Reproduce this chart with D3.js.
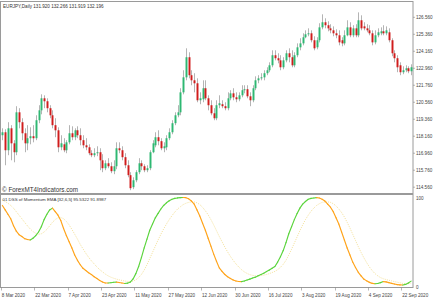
<html>
<head>
	<title>EURJPY Daily DSS of Momentum</title>
	<style>
		body { margin: 0; background: #fff; }
		text { font-family: "Liberation Sans", Arial, sans-serif; }
	</style>
</head>
<body>
	<script src="https://cdnjs.cloudflare.com/ajax/libs/d3/7.8.5/d3.min.js"></script>
	<script type="text/javascript">
		// candles, EURJPY D1
		var open = [118.23,118.44,117.17,118.72,117.66,117.03,119.85,119.15,118.37,117.66,
			118.02,118.16,118.02,119.29,119.99,120.84,120.63,120.14,119.64,118.94,
			118.58,117.38,117.59,117.17,117.73,118.37,118.09,118.58,118.23,117.88,
			117.52,117.38,116.96,116.82,116.96,117.03,116.46,115.90,116.25,116.04,
			115.69,116.04,117.31,117.17,116.68,116.11,115.41,114.56,115.05,115.62,
			116.25,116.04,115.76,115.90,117.03,117.52,118.09,117.81,117.31,117.38,
			118.02,118.44,119.08,119.64,119.85,121.26,122.32,123.74,122.47,122.11,
			121.90,120.70,120.77,121.55,120.84,120.35,119.78,119.43,120.35,120.42,
			120.28,120.14,120.84,121.19,120.91,120.77,121.05,121.41,121.48,120.98,
			120.70,121.55,122.11,122.25,122.32,122.61,122.82,123.17,123.88,123.67,
			123.52,123.03,123.52,124.02,123.74,123.17,123.88,124.44,124.72,125.15,
			125.36,125.43,124.94,124.44,124.94,125.85,126.21,126.00,125.78,125.64,
			125.43,125.29,124.94,124.72,125.29,125.85,125.29,125.78,125.29,126.35,
			125.92,125.78,125.64,125.43,124.79,125.29,125.43,125.57,125.43,125.50,
			124.94,124.02,123.67,123.17,122.68,122.82,122.96,122.75];
		var close = [118.44,117.17,118.72,117.66,117.03,119.85,119.15,118.37,117.66,118.02,
			118.16,118.02,119.29,119.99,120.84,120.63,120.14,119.64,118.94,118.58,
			117.38,117.66,117.17,117.73,118.37,118.09,118.58,118.23,117.88,117.52,
			117.38,116.96,116.82,116.96,117.03,116.46,115.90,116.25,116.04,115.69,
			116.04,117.31,117.17,116.68,116.11,115.41,114.49,115.05,115.62,116.25,
			116.04,115.76,115.90,117.03,117.66,118.09,117.81,117.31,117.45,118.02,
			118.44,119.08,119.64,119.85,121.26,122.32,123.74,122.47,122.11,121.90,
			120.70,120.84,121.55,120.84,120.35,119.78,119.43,120.35,120.49,120.28,
			120.14,120.84,121.19,120.91,120.77,121.05,121.41,121.48,120.98,120.70,
			121.55,122.11,122.25,122.32,122.61,122.82,123.17,123.88,123.67,123.52,
			123.03,123.52,124.02,123.74,123.17,123.88,124.44,124.72,125.15,125.36,
			125.43,124.94,124.37,124.94,125.85,126.21,126.00,125.78,125.64,125.43,
			125.29,124.79,124.72,125.29,125.85,125.29,125.78,125.29,126.35,125.78,
			125.78,125.64,125.43,124.79,125.29,125.50,125.57,125.43,125.64,124.94,
			124.02,123.67,123.03,122.68,122.82,122.96,122.75,123.03];
		var high = [118.72,118.65,119.15,118.94,117.88,120.28,120.14,119.43,118.72,118.94,
			118.79,118.94,119.64,120.35,121.12,121.05,120.84,120.35,119.99,119.43,
			118.79,118.23,118.02,117.88,118.94,118.86,118.72,118.86,118.72,118.23,
			118.02,117.59,117.17,117.31,117.45,117.31,116.89,116.46,116.61,116.32,
			116.46,117.73,117.73,117.45,116.96,116.46,115.62,115.26,115.76,116.61,
			116.46,116.18,116.11,117.17,117.88,118.44,118.58,118.02,117.73,118.23,
			118.72,119.29,119.85,120.35,121.55,122.82,124.37,124.09,122.82,122.61,
			122.25,121.26,122.11,122.11,121.05,120.70,120.14,120.70,121.05,120.70,
			120.56,121.26,121.41,121.55,121.26,121.26,121.76,121.76,121.76,121.26,
			121.76,122.39,122.47,122.61,122.82,123.03,123.38,124.23,124.23,124.02,
			123.88,123.74,124.23,124.37,124.23,124.09,124.72,125.08,125.43,125.64,
			125.78,125.64,125.22,125.15,126.14,126.77,126.49,126.28,126.07,125.92,
			125.71,125.64,125.15,125.64,126.35,126.21,126.00,126.07,126.91,126.70,
			126.21,126.07,126.00,125.64,125.64,125.78,125.85,126.00,125.92,125.78,
			125.08,124.23,123.88,123.38,123.10,123.17,123.10,123.24];
		var low = [117.88,116.11,116.82,116.46,116.32,116.82,118.72,117.88,117.03,117.17,
			117.59,117.73,117.88,119.08,119.71,120.14,119.85,119.43,118.72,118.09,
			117.03,117.17,117.03,116.96,117.59,117.88,117.88,118.02,117.52,117.31,
			117.17,116.82,116.68,116.68,116.75,115.76,115.62,115.76,115.90,115.55,
			115.48,115.83,116.96,116.46,115.90,115.26,114.35,114.42,114.91,115.48,
			115.76,115.62,115.62,115.76,116.96,117.38,117.52,117.17,117.03,117.17,
			117.88,118.30,118.94,119.50,119.64,121.12,122.11,122.25,121.76,121.26,
			120.56,120.42,120.56,120.70,119.99,119.64,119.29,119.29,120.14,120.14,
			119.99,119.99,120.70,120.70,120.56,120.63,120.91,121.19,120.84,120.28,
			120.56,121.41,121.90,122.11,122.11,122.47,122.68,123.03,123.52,123.31,
			122.82,122.89,123.38,123.38,123.03,123.03,123.74,124.23,124.58,125.08,
			125.22,124.79,124.23,124.30,124.79,125.71,125.78,125.57,125.43,125.22,
			125.08,124.58,124.51,124.58,125.22,125.15,125.15,125.15,125.15,125.64,
			125.64,125.50,125.29,124.58,124.65,125.15,125.29,125.29,125.29,124.79,
			123.81,123.38,122.68,122.47,122.54,122.68,122.61,122.47];

		// DSS of Momentum EMA(32,6,5): main and signal
		var dssMain = [91,86,81,76,68,62,58,56,53.5,52.5,
			52,54,57,61,67,75,81,86,88,84,
			80,74,65,57,50,43,35,29,24,20,
			17.5,15,13,10.5,8.5,6.2,4.5,3.4,3.4,3.7,
			4.2,4.4,3.9,3.4,2.8,3.2,4.5,8,14,22,
			32,43,53,63,70,77,82,87,91,94,
			96.3,98,99,99.5,99.8,100,99.8,98.5,96,92.5,
			86,79,71,63,54,45,36,28,20.5,16.5,
			13,10.5,8.5,6.7,5.6,5.1,5.0,5.6,6.7,7.8,
			9,10,11.5,13,14.4,16.3,18,20,22,27,
			33,40,49,59,67,75,82,88,92.5,95.5,
			98,99,99.4,99.9,99.4,98,96,92.5,89,84,
			77,70,61,52,43,35,27,21,15.5,11.5,
			7.8,5.8,4.1,3,2.5,2.8,3.8,5,4.6,3.8,
			3,2.2,1.5,1.2,1.1,1.8,3.5,5.5];
		var dssSignal = [97,95.5,93.5,91,88,84,80,76,72,68,
			64.5,61.5,59.5,58.5,59,61,64,68,72,75,
			77,77.5,76,73,69,64,58.5,53,47,42,
			37,32.5,28.5,25,21.5,18.5,16,13.5,11.5,10,
			8.8,7.8,7,6.3,5.6,5.2,5,5.5,7,9.5,
			13,18,24,31,38,45,52,58.5,64.5,70,
			75,79.5,83.5,87,89.5,92,93.5,94.5,95,95,
			94,92,89,85,80.5,75,69,62.5,56,50,
			44,38.5,33.5,29,25,21.5,18.5,16,14.2,12.8,
			12,11.6,11.5,11.8,12.3,13,14,15.2,16.5,18.5,
			21,24.5,29,35,41.5,48.5,55.5,62.5,69,75,
			80,84.5,88,91,93,94.5,95,95,94.5,93,
			90.5,87,83,78,72,65.5,58.5,51.5,44.5,38,
			32,26.5,21.5,17.5,14,11.5,9.5,8.2,7.3,6.5,
			5.8,5,4.3,3.6,3,2.6,2.6,3];

		var priceTicks = [126.560,125.360,124.160,122.960,121.760,120.560,119.360,118.160,116.960,115.760,114.560];
		var dssTicks = [100, 0];
		var dateLabels = ["8 Mar 2020","22 Mar 2020","7 Apr 2020","23 Apr 2020","11 May 2020","27 May 2020",
			"12 Jun 2020","30 Jun 2020","16 Jul 2020","3 Aug 2020","19 Aug 2020","4 Sep 2020","22 Sep 2020"];
		var dateLabelEvery = 12;

		var W = 436, H = 300;
		var plotRight = 412.5;
		var main = {top: 1.5, bottom: 193.5};
		var sub = {top: 194.5, bottom: 287.5};

		var svg = d3.select("body").append("svg")
			.attr("width", W)
			.attr("height", H);

		var idx = d3.range(close.length);
		var x = d3.scaleBand()
			.domain(idx)
			.range([1, plotRight]);
		var cx = function(i){ return x(i) + x.bandwidth()/2; };

		var y = d3.scaleLinear()
			.domain([114.56, 126.56])
			.range([187.2, 17.3]);
		var yd = d3.scaleLinear()
			.domain([0, 100])
			.range([286, 197.5]);

		// panel frames
		svg.append("rect")
			.attr("x", 0.5).attr("y", main.top)
			.attr("width", plotRight).attr("height", main.bottom - main.top)
			.style("fill", "none").style("stroke", "#9a9a9a").style("stroke-width", 1);
		svg.append("rect")
			.attr("x", 0.5).attr("y", sub.top)
			.attr("width", plotRight).attr("height", sub.bottom - sub.top)
			.style("fill", "none").style("stroke", "#9a9a9a").style("stroke-width", 1);

		// candles
		var candles = svg.append("g");
		var bw = Math.max(1.6, x.bandwidth()*0.7);
		candles.selectAll("line.wick")
			.data(idx)
			.enter().append("line")
			.attr("class", "wick")
			.attr("x1", function(i){ return Math.round(cx(i)) + 0.5; })
			.attr("x2", function(i){ return Math.round(cx(i)) + 0.5; })
			.attr("y1", function(i){ return y(high[i]); })
			.attr("y2", function(i){ return y(low[i]); })
			.style("stroke", "#b4b4b4")
			.style("stroke-width", 1);
		candles.selectAll("rect.body")
			.data(idx)
			.enter().append("rect")
			.attr("class", "body")
			.attr("x", function(i){ return Math.round(cx(i)) + 0.5 - bw/2; })
			.attr("width", bw)
			.attr("y", function(i){ return y(Math.max(open[i], close[i])); })
			.attr("height", function(i){ return Math.max(1, Math.abs(y(open[i]) - y(close[i]))); })
			.style("fill", function(i){ return close[i] >= open[i] ? "#2eb872" : "#d01c1c"; });

		// price axis
		var pa = svg.append("g");
		pa.selectAll("line")
			.data(priceTicks)
			.enter().append("line")
			.attr("x1", plotRight + 0.5).attr("x2", plotRight + 2.5)
			.attr("y1", function(d){ return y(d); }).attr("y2", function(d){ return y(d); })
			.style("stroke", "#888").style("stroke-width", 0.6);
		pa.selectAll("text")
			.data(priceTicks)
			.enter().append("text")
			.attr("x", plotRight + 3.5)
			.attr("y", function(d){ return y(d); })
			.attr("dy", "0.35em")
			.style("font-size", "4.6px")
			.style("fill", "#444")
			.text(function(d){ return d.toFixed(3); });

		// DSS axis
		svg.append("g").selectAll("text")
			.data(dssTicks)
			.enter().append("text")
			.attr("x", plotRight + 3.5)
			.attr("y", function(d){ return yd(d) + (d === 0 ? 1 : 0.5); })
			.attr("dy", "0.35em")
			.style("font-size", "4.6px")
			.style("fill", "#444")
			.text(function(d){ return d; });

		// signal line, dotted
		svg.append("path")
			.datum(idx)
			.attr("d", d3.line().x(cx).y(function(i){ return yd(dssSignal[i]); }))
			.style("fill", "none")
			.style("stroke", "#f2dc8c")
			.style("stroke-width", 0.9)
			.style("stroke-dasharray", "1,1.2");

		// main line, green rising / orange falling
		var segLine = d3.line().x(cx).y(function(i){ return yd(dssMain[i]); });
		svg.append("g").selectAll("path")
			.data(idx.slice(1))
			.enter().append("path")
			.attr("d", function(i){ return segLine([i - 1, i]); })
			.style("fill", "none")
			.style("stroke-linecap", "round")
			.style("stroke-width", 1.15)
			.style("stroke", function(i){ return dssMain[i] > dssMain[i - 1] ? "#5ad43c" : "#ffa31a"; });

		// date axis
		var dateIdx = dateLabels.map(function(d, k){ return k*dateLabelEvery; });
		var da = svg.append("g");
		da.selectAll("line")
			.data(dateIdx)
			.enter().append("line")
			.attr("x1", function(i){ return Math.round(x(i)) + 0.5; })
			.attr("x2", function(i){ return Math.round(x(i)) + 0.5; })
			.attr("y1", sub.bottom).attr("y2", sub.bottom + 3)
			.style("stroke", "#888").style("stroke-width", 0.6);
		da.selectAll("text")
			.data(dateIdx)
			.enter().append("text")
			.attr("x", function(i){ return x(i) + 0.8; })
			.attr("y", 297)
			.style("font-size", "4.6px")
			.style("fill", "#444")
			.text(function(i, k){ return dateLabels[k]; });

		// captions
		svg.append("text")
			.attr("x", 3).attr("y", 7.5)
			.style("font-size", "4.6px").style("fill", "#333")
			.text("EURJPY,Daily  131.920 132.266 131.919 132.196");
		svg.append("text")
			.attr("x", 2).attr("y", 192)
			.style("font-size", "6.3px").style("fill", "#333")
			.text("\u00a9 ForexMT4Indicators.com");
		svg.append("text")
			.attr("x", 2.5).attr("y", 200.5)
			.style("font-size", "4.4px").style("fill", "#333")
			.text("01 DSS of Momentum EMA [32,6,5] 95.5322 91.8987");
	</script>
</body>
</html>
